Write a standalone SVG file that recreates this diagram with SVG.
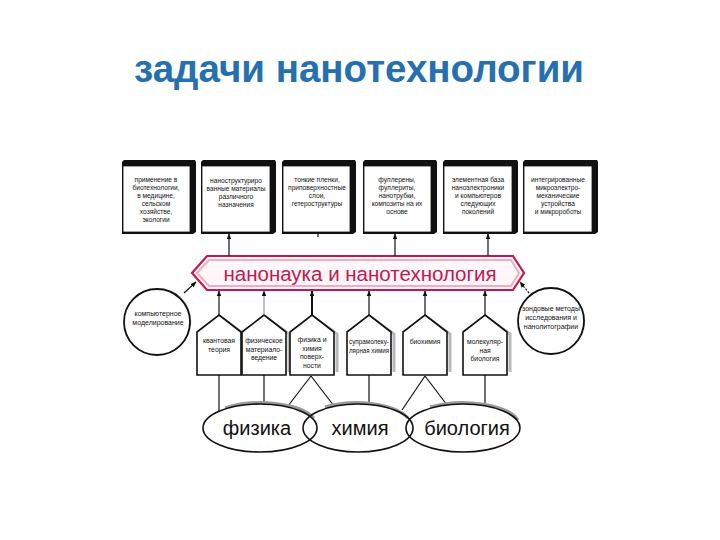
<svg xmlns="http://www.w3.org/2000/svg" width="720" height="540" viewBox="0 0 720 540">
<defs>
<style>
.title{font-family:"Liberation Sans",Arial,sans-serif;font-weight:bold;font-size:38.5px;fill:#2470b0}
.bt{font-family:"Liberation Sans",Arial,sans-serif;font-size:6.6px;fill:#111;text-anchor:middle}
.pt{font-family:"Liberation Sans",Arial,sans-serif;font-size:6.8px;fill:#111;text-anchor:middle}
.ct{font-family:"Liberation Sans",Arial,sans-serif;font-size:7px;fill:#111;text-anchor:middle}
.et{font-family:"Liberation Sans",Arial,sans-serif;font-size:20px;fill:#111;text-anchor:middle}
.bn{font-family:"Liberation Sans",Arial,sans-serif;font-size:20.5px;fill:#c3174d;text-anchor:middle}
.box{fill:#111}
.face{fill:#fff;stroke:#111;stroke-width:0.8}
.pent{fill:#fff;stroke:#111;stroke-width:1.6}
.pshadow{fill:none;stroke:#b8b8b8;stroke-width:3}
.ln{stroke:#111;stroke-width:1.2;fill:none}
.ell{fill:none;stroke:#111;stroke-width:1.6}
.eshadow{fill:none;stroke:#9a9a9a;stroke-width:3}
</style>
<marker id="ar" viewBox="0 0 10 10" refX="9" refY="5" markerWidth="6" markerHeight="6" markerUnits="userSpaceOnUse" orient="auto">
<path d="M0,1 L10,5 L0,9 z" fill="#111"/>
</marker>
</defs>
<rect width="720" height="540" fill="#fff"/>
<text class="title" x="359" y="82" text-anchor="middle">задачи нанотехнологии</text>

<g id="box1"><path class="box" d="M124,160 L195,160 L196,162 L196,232 L193,234 L122,234 L122,162 z"/><rect class="face" x="123" y="166" width="67" height="66"/>
<text class="bt" x="156" y="182">применение в</text><text class="bt" x="156" y="190">биотехнологии,</text><text class="bt" x="156" y="198">в медицине,</text><text class="bt" x="156" y="206">сельском</text><text class="bt" x="156" y="214">хозяйстве,</text><text class="bt" x="156" y="222">экологии</text></g>
<g id="box2"><path class="box" d="M203,160 L275,160 L276,162 L276,232 L273,234 L201,234 L201,162 z"/><rect class="face" x="202" y="166" width="68" height="66"/>
<text class="bt" x="236" y="183">наноструктуриро</text><text class="bt" x="236" y="191">ванные материалы</text><text class="bt" x="236" y="199">различного</text><text class="bt" x="236" y="207">назначения</text></g>
<g id="box3"><path class="box" d="M284,160 L355,160 L356,162 L356,232 L353,234 L282,234 L282,162 z"/><rect class="face" x="283" y="166" width="67" height="66"/>
<text class="bt" x="317" y="182">тонкие пленки,</text><text class="bt" x="317" y="190">приповерхностные</text><text class="bt" x="317" y="198">слои,</text><text class="bt" x="317" y="206">гетероструктуры</text></g>
<g id="box4"><path class="box" d="M365,160 L436,160 L437,162 L437,232 L434,234 L363,234 L363,162 z"/><rect class="face" x="364" y="166" width="67" height="66"/>
<text class="bt" x="397" y="182">фуллерены,</text><text class="bt" x="397" y="190">фуллериты,</text><text class="bt" x="397" y="198">нанотрубки,</text><text class="bt" x="397" y="206">композиты на их</text><text class="bt" x="397" y="214">основе</text></g>
<g id="box5"><path class="box" d="M445,160 L517,160 L518,162 L518,232 L515,234 L443,234 L443,162 z"/><rect class="face" x="444" y="166" width="68" height="66"/>
<text class="bt" x="478" y="182">элементная база</text><text class="bt" x="478" y="190">наноэлектроники</text><text class="bt" x="478" y="198">и компьютеров</text><text class="bt" x="478" y="206">следующих</text><text class="bt" x="478" y="214">поколений</text></g>
<g id="box6"><path class="box" d="M525,160 L597,160 L598,162 L598,232 L595,234 L523,234 L523,162 z"/><rect class="face" x="524" y="166" width="68" height="66"/>
<text class="bt" x="558" y="182">интегрированные</text><text class="bt" x="558" y="190">микроэлектро-</text><text class="bt" x="558" y="198">механические</text><text class="bt" x="558" y="206">устройства</text><text class="bt" x="558" y="214">и микророботы</text></g>

<g id="banner">
<polygon points="192,273 207,256 513,256 524,273 513,290 207,290" fill="#fff7fa" stroke="#c3174d" stroke-width="2.2"/>
<polygon points="197,273 209,260 511,260 519,273 511,286 209,286" fill="none" stroke="#f2adc2" stroke-width="2"/>
<text class="bn" x="360" y="281">нанонаука и нанотехнология</text>
</g>

<g id="circle-left"><path d="M170,292 A33,33 0 0 1 189,326" fill="none" stroke="#aaa" stroke-width="4"/><circle cx="157" cy="322" r="33" fill="#fff" stroke="#111" stroke-width="1.8"/>
<text class="ct" x="158" y="316">компьютерное</text><text class="ct" x="158" y="325">моделирование</text></g>
<g id="circle-right"><path d="M564,292 A33,33 0 0 1 583,326" fill="none" stroke="#aaa" stroke-width="4"/><circle cx="551" cy="321" r="33" fill="#fff" stroke="#111" stroke-width="1.8"/>
<text class="ct" x="551" y="311">зондовые методы</text><text class="ct" x="551" y="320">исследования и</text><text class="ct" x="551" y="329">нанолитографии</text></g>

<g id="pent1"><path class="pshadow" d="M222,318 L244,334 L244,372"/><path class="pent" d="M219,315 L241,332 L241,375 L197,375 L197,332 z"/>
<text class="pt" x="219" y="343">квантовая</text><text class="pt" x="219" y="352">теория</text></g>
<g id="pent2"><path class="pshadow" d="M267,318 L289,334 L289,372"/><path class="pent" d="M264,315 L286,332 L286,375 L242,375 L242,332 z"/>
<text class="pt" x="264" y="343">физическое</text><text class="pt" x="264" y="351.5">материало-</text><text class="pt" x="264" y="360">ведение</text></g>
<g id="pent3"><path class="pshadow" d="M315,318 L337,334 L337,372"/><path class="pent" d="M312,315 L334,332 L334,375 L290,375 L290,332 z"/>
<text class="pt" x="312" y="342">физика и</text><text class="pt" x="312" y="350.5">химия</text><text class="pt" x="312" y="359">поверх-</text><text class="pt" x="312" y="367.5">ности</text></g>
<g id="pent4"><path class="pshadow" d="M372,318 L394,334 L394,372"/><path class="pent" d="M369,315 L391,332 L391,375 L347,375 L347,332 z"/>
<text class="pt" x="369" y="344" textLength="40" lengthAdjust="spacingAndGlyphs">супрамолеку-</text><text class="pt" x="369" y="353" textLength="40" lengthAdjust="spacingAndGlyphs">лярная химия</text></g>
<g id="pent5"><path class="pshadow" d="M428,318 L450,334 L450,372"/><path class="pent" d="M425,315 L447,332 L447,375 L403,375 L403,332 z"/>
<text class="pt" x="425" y="344">биохимия</text></g>
<g id="pent6"><path class="pshadow" d="M488,318 L510,334 L510,372"/><path class="pent" d="M485,315 L507,332 L507,375 L463,375 L463,332 z"/>
<text class="pt" x="485" y="344">молекуляр-</text><text class="pt" x="485" y="352.5">ная</text><text class="pt" x="485" y="361">биология</text></g>

<g id="connectors">
<line class="ln" x1="229" y1="256" x2="229" y2="234" marker-end="url(#ar)"/>
<line class="ln" x1="318" y1="234" x2="318" y2="237"/>
<line class="ln" x1="395" y1="256" x2="395" y2="234" marker-end="url(#ar)"/>
<line class="ln" x1="488" y1="256" x2="488" y2="234" marker-end="url(#ar)"/>
<line class="ln" x1="219" y1="315" x2="219" y2="291" marker-end="url(#ar)"/>
<line x1="264" y1="315" x2="264" y2="291" stroke="#888" stroke-width="1" marker-end="url(#ar)"/>
<line x1="312" y1="315" x2="312" y2="291" stroke="#111" stroke-width="2" marker-end="url(#ar)"/>
<line class="ln" x1="369" y1="315" x2="369" y2="291" marker-end="url(#ar)"/>
<line class="ln" x1="425" y1="315" x2="425" y2="291" marker-end="url(#ar)"/>
<line class="ln" x1="485" y1="315" x2="485" y2="291" marker-end="url(#ar)"/>
<line class="ln" x1="184" y1="293" x2="196" y2="282" marker-end="url(#ar)"/>
<line class="ln" x1="529" y1="293" x2="520" y2="282" stroke-dasharray="2,1.5" marker-end="url(#ar)"/>
<line class="ln" x1="219" y1="375" x2="219" y2="412"/>
<line class="ln" x1="264" y1="375" x2="264" y2="404"/>
<line class="ln" x1="311" y1="376" x2="288" y2="406"/>
<line class="ln" x1="311" y1="376" x2="334" y2="406"/>
<line class="ln" x1="369" y1="375" x2="369" y2="404"/>
<line class="ln" x1="425" y1="376" x2="402" y2="410"/>
<line class="ln" x1="425" y1="376" x2="447" y2="405"/>
<line class="ln" x1="485" y1="375" x2="485" y2="406"/>
</g>

<g id="ellipses">
<path class="eshadow" d="M225,408 A57,24 0 0 1 314,418"/>
<path class="eshadow" d="M325,407 A55,24 0 0 1 408,418"/>
<path class="eshadow" d="M430,407 A57,24 0 0 1 518,420"/>
<g id="physics"><ellipse class="ell" cx="260" cy="428" rx="57" ry="24"/></g>
<g id="chemistry"><ellipse class="ell" cx="358" cy="428" rx="55" ry="24"/></g>
<g id="biology"><ellipse class="ell" cx="463" cy="428" rx="57" ry="24"/></g>
<text class="et" x="257" y="435">физика</text>
<text class="et" x="360" y="435">химия</text>
<text class="et" x="467" y="435">биология</text>
</g>
</svg>
